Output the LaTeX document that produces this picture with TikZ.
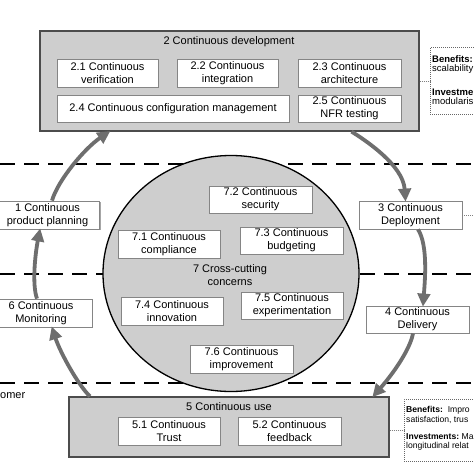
\documentclass[tikz,border=0pt]{standalone}
\usepackage{fontspec}
\setmainfont{Liberation Sans}
\usetikzlibrary{arrows.meta,shadows,shapes.geometric}
\definecolor{panelgray}{HTML}{CECECE}
\definecolor{arrowgray}{HTML}{6E6E6E}
\definecolor{edgegray}{HTML}{858585}
\begin{document}
\begin{tikzpicture}[x=1pt,y=-1pt,
  every node/.style={font=\fontsize{11}{13}\selectfont},
  box/.style={draw=edgegray, fill=white, line width=0.8pt, align=center, inner sep=0pt,
    drop shadow={shadow xshift=1.2pt, shadow yshift=-1.2pt, opacity=0.35, fill=black}},
  panel/.style={draw=black!70, fill=panelgray, line width=1.2pt, inner sep=0pt,
    drop shadow={shadow xshift=1.2pt, shadow yshift=-1.2pt, opacity=0.35, fill=black}},
  benbox/.style={draw=black!60, dash pattern=on 0.8pt off 1.2pt, line width=0.8pt, inner sep=0pt, fill=white},
  bentext/.style={anchor=west, inner sep=0pt, font=\fontsize{9.5}{10}\selectfont},
  bentextsm/.style={anchor=west, inner sep=0pt, font=\fontsize{8.6}{9}\selectfont},
  dotconn/.style={draw=black!50, dash pattern=on 0.6pt off 1.4pt, line width=0.6pt},
  dashline/.style={draw=black, line width=2pt, dash pattern=on 15pt off 9pt},
  flow/.style={draw=arrowgray, line width=3.8pt, -{Triangle[length=13pt,width=12.5pt]}, shorten >=-1pt}
]
\clip (0,0) rectangle (474,474);
\fill[white] (0,0) rectangle (474,474);

% dashed separators
\draw[dashline] (0,164) -- (474,164);
\draw[dashline] (0,274) -- (474,274);
\draw[dashline] (0,383) -- (474,383);

% cross-cutting ellipse
\node[draw=black, fill=panelgray, line width=1.3pt, ellipse, minimum width=256pt, minimum height=236pt, inner sep=0pt] (c7) at (231,273.5) {};
\node[align=center] (t7) at (230,275) {7 Cross-cutting\\concerns};

% panel 2
\node[panel, minimum width=379pt, minimum height=100pt] (b2) at (229.5,81) {};
\node (t2) at (229,42) {2 Continuous development};
\node[box, minimum width=101pt, minimum height=28pt] (n21) at (107.5,73) {2.1 Continuous\\verification};
\node[box, minimum width=101pt, minimum height=28pt] (n22) at (227.5,73) {2.2 Continuous\\integration};
\node[box, minimum width=103pt, minimum height=28pt] (n23) at (349.5,73) {2.3 Continuous\\architecture};
\node[box, minimum width=232pt, minimum height=27pt] (n24) at (173,108.5) {2.4 Continuous configuration management};
\node[box, minimum width=103pt, minimum height=27pt] (n25) at (349.5,108.5) {2.5 Continuous\\NFR testing};

% benefits of panel 2
\node[benbox, anchor=west, minimum width=60pt, minimum height=67pt] (ben2) at (430,80.5) {};
\node[bentext] (ben2a) at (432,59) {\bfseries Benefits:};
\node[bentext] (ben2b) at (432,69) {scalability};
\node[bentext] (ben2c) at (432,92) {\bfseries Investme};
\node[bentext] (ben2d) at (432,101) {modularis};
\draw[dotconn] (b2.east) -- (b2.east -| ben2.west);

% cross-cutting concerns boxes
\node[box, minimum width=103pt, minimum height=27pt] (n72) at (260.5,199.5) {7.2 Continuous\\security};
\node[box, minimum width=102pt, minimum height=28pt] (n71) at (169,244) {7.1 Continuous\\compliance};
\node[box, minimum width=103pt, minimum height=27pt] (n73) at (291.5,240.5) {7.3 Continuous\\budgeting};
\node[box, minimum width=102pt, minimum height=28pt] (n74) at (172,311) {7.4 Continuous\\innovation};
\node[box, minimum width=102pt, minimum height=27pt] (n75) at (292,305.5) {7.5 Continuous\\experimentation};
\node[box, minimum width=103pt, minimum height=28pt] (n76) at (241.5,359) {7.6 Continuous\\improvement};

% outer stages
\node[box, minimum width=104pt, minimum height=28pt] (n1) at (47.5,215) {1 Continuous\\product planning};
\node[box, minimum width=102pt, minimum height=28pt] (n6) at (41,313) {6 Continuous\\Monitoring};
\node[box, minimum width=103pt, minimum height=28pt] (n3) at (410.5,215) {3 Continuous\\Deployment};
\node[box, minimum width=103pt, minimum height=27pt] (n4) at (417.5,319.5) {4 Continuous\\Delivery};
\coordinate (d3) at (480,215);
\draw[dotconn] (n3.east) -- (d3);

% panel 5
\node[panel, minimum width=320pt, minimum height=60pt] (b5) at (229,427) {};
\node (t5) at (229,407) {5 Continuous use};
\node[box, minimum width=102pt, minimum height=28pt] (n51) at (169,431) {5.1 Continuous\\Trust};
\node[box, minimum width=103pt, minimum height=28pt] (n52) at (289.5,431) {5.2 Continuous\\feedback};

% benefits of panel 5
\node[benbox, anchor=west, minimum width=80pt, minimum height=62pt] (ben5) at (404,430) {};
\node[bentextsm] (ben5a) at (406,410) {\bfseries Benefits:\mdseries\ \ Impro};
\node[bentextsm] (ben5b) at (406,419.5) {satisfaction, trus};
\node[bentextsm] (ben5c) at (406,437) {\bfseries Investments:\mdseries\ Ma};
\node[bentextsm] (ben5d) at (406,446.5) {longitudinal relat};
\draw[dotconn] (b5.east |- ben5.west) -- (ben5.west);

\node[anchor=west, inner sep=0pt] (cust) at (0,396) {omer};

% flow arrows
\draw[flow] ([xshift=122pt]b2.south) .. controls (365,140) and (403,165) .. ([xshift=-5pt]n3.north);
\draw[flow] ([xshift=7.5pt]n3.south) .. controls (428,245) and (425,280) .. ([xshift=5.5pt]n4.north);
\draw[flow] ([xshift=-4.5pt]n4.south) .. controls (410,350) and (392,375) .. ([xshift=144pt]b5.north);
\draw[flow] ([xshift=-139pt]b5.north) .. controls (78,385) and (60,352) .. ([xshift=11pt]n6.south);
\draw[flow] ([xshift=-4pt]n6.north) .. controls (32,285) and (35,255) .. ([xshift=-7.5pt]n1.south);
\draw[flow] ([xshift=4.5pt]n1.north) .. controls (58,180) and (85,148) .. ([xshift=-120pt]b2.south);
\end{tikzpicture}
\end{document}
